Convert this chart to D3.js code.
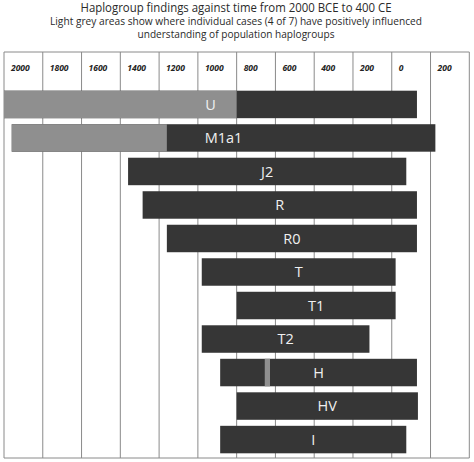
<!DOCTYPE html>
<html>
<head>
<meta charset="utf-8">
<script src="https://cdn.jsdelivr.net/npm/d3@7"></script>
<style>
  body { margin: 0; background: #fff; }
  svg { display: block; font-family: "Open Sans", sans-serif; }
</style>
</head>
<body>
<div class="chart"></div>
<script>
// haplogroups, top to bottom
const groups = ["U", "M1a1", "J2", "R", "R0", "T", "T1", "T2", "H", "HV", "I"]
// years (negative = BCE)
const starts = [-2000, -1960, -1360, -1285, -1160, -980, -800, -980, -885, -800, -885]
const ends = [130, 225, 75, 130, 130, 20, 20, -115, 130, 135, 75]

// light grey parts (individual cases)
const hlGroups = ["U", "M1a1", "H"]
const hlFrom = [-2000, -1960, -655]
const hlTo = [-800, -1160, -628]

const tickYears = [-2000, -1800, -1600, -1400, -1200, -1000, -800, -600, -400, -200, 0, 200]
const tickLabels = ["2000", "1800", "1600", "1400", "1200", "1000", "800", "600", "400", "200", "0", "200"]

const width = 474, height = 462
const left = 4, right = 469.3, headTop = 52, tableBottom = 458

const svg = d3.select(".chart").append("svg")
    .attr("width", width)
    .attr("height", height)

const x = d3.scaleLinear()
    .domain([-2000, 400])
    .range([left, right])

const y = d3.scaleBand()
    .domain(groups)
    .range([90.7, 453.3])
    .paddingInner(0.18)
    .paddingOuter(0)

// titles
const titles = [
  {t: "Haplogroup findings against time from 2000 BCE to 400 CE", y: 11.5, size: 12.5, len: 311},
  {t: "Light grey areas show where individual cases (4 of 7) have positively influenced", y: 25, size: 10.5, len: 372},
  {t: "understanding  of population haplogroups", y: 38, size: 10.5, len: 197}
]
svg.selectAll(".title")
  .data(titles)
  .join("text")
    .attr("class", "title")
    .attr("x", 236)
    .attr("y", d => d.y)
    .attr("text-anchor", "middle")
    .attr("textLength", d => d.len)
    .attr("lengthAdjust", "spacingAndGlyphs")
    .style("font-size", d => d.size + "px")
    .style("fill", "#2a2a2a")
    .text(d => d.t)

// grid lines (table columns)
svg.append("g")
  .selectAll("line")
  .data(tickYears.concat([400]))
  .join("line")
    .attr("x1", d => x(d))
    .attr("x2", d => x(d))
    .attr("y1", headTop)
    .attr("y2", tableBottom)
    .attr("stroke", "#8a8a8a")
    .attr("stroke-width", 1)

svg.append("line")
    .attr("x1", left).attr("x2", right)
    .attr("y1", headTop).attr("y2", headTop)
    .attr("stroke", "#8a8a8a")
svg.append("line")
    .attr("x1", left).attr("x2", right)
    .attr("y1", tableBottom).attr("y2", tableBottom)
    .attr("stroke", "#8a8a8a")

// header labels
svg.append("g")
  .selectAll("text")
  .data(tickYears)
  .join("text")
    .attr("x", d => x(d) + 7)
    .attr("y", 71)
    .style("font-size", "8.5px")
    .style("font-style", "italic")
    .style("font-weight", "bold")
    .style("fill", "#222")
    .text((d, i) => tickLabels[i])

// bars
const bars = groups.map((g, i) => ({group: g, start: starts[i], end: ends[i]}))
const hl = hlGroups.map((g, i) => ({group: g, from: hlFrom[i], to: hlTo[i]}))

svg.append("g")
  .selectAll("rect")
  .data(bars)
  .join("rect")
    .attr("x", d => x(d.start))
    .attr("y", d => y(d.group))
    .attr("width", d => x(d.end) - x(d.start))
    .attr("height", y.bandwidth())
    .attr("fill", "#363636")

svg.append("g")
  .selectAll("rect")
  .data(hl)
  .join("rect")
    .attr("x", d => x(d.from))
    .attr("y", d => y(d.group))
    .attr("width", d => x(d.to) - x(d.from))
    .attr("height", y.bandwidth())
    .attr("fill", "#8f8f8f")

svg.append("g")
  .selectAll("text")
  .data(bars)
  .join("text")
    .attr("x", d => (x(d.start) + x(d.end)) / 2)
    .attr("y", d => y(d.group) + y.bandwidth() / 2)
    .attr("dy", "0.36em")
    .attr("text-anchor", "middle")
    .style("font-size", "14.5px")
    .style("fill", "#f0f0f0")
    .text(d => d.group)
</script>
</body>
</html>
